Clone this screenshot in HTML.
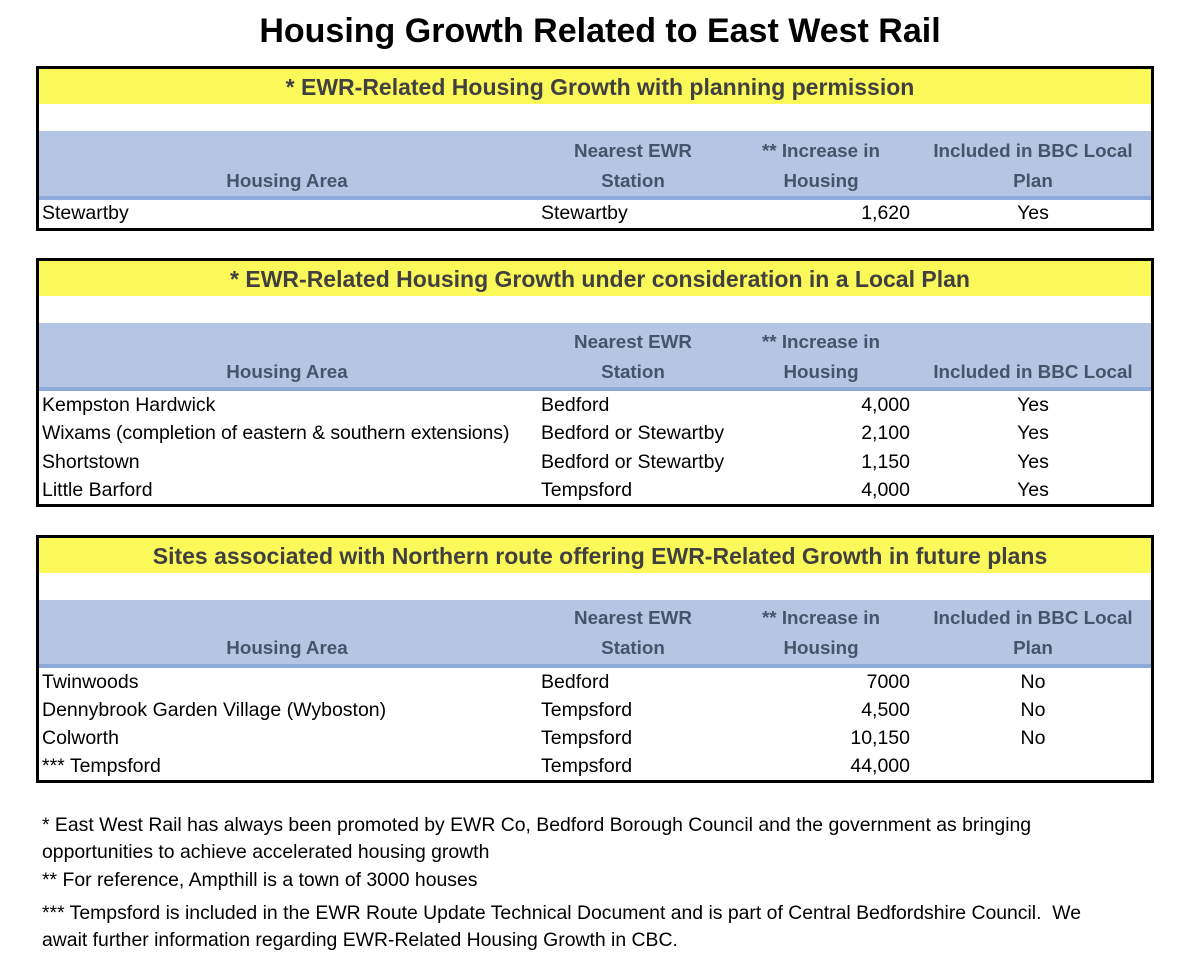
<!DOCTYPE html>
<html><head><meta charset="utf-8"><style>
*{margin:0;padding:0;box-sizing:border-box}
body{width:1200px;height:966px;background:#fff;position:relative;font-family:"Liberation Sans",Arial,sans-serif;overflow:hidden}
.a{position:absolute;white-space:nowrap}
.box{position:absolute;left:36px;width:1118px;border:3px solid #000}
.y{position:absolute;left:0;right:0;background:#fbf959}
.b{position:absolute;left:0;right:0;background:#b4c6e4}
.bl{position:absolute;left:0;right:0;background:#8eaadb;height:4px}
.t{font-weight:bold;color:#404040;font-size:23px;left:0;right:0;text-align:center}
.h{font-weight:bold;color:#44546a;font-size:18.8px;text-align:center;width:300px;margin-left:-150px}
.r{font-size:19.5px;color:#000}
.n{font-size:19.5px;color:#000;text-align:right;width:200px}
.c{font-size:19.5px;color:#000;text-align:center;width:100px;margin-left:-50px}
.f{font-size:19.4px;color:#000;left:42px}
</style></head><body>
<div class="a" style="left:0;right:0;top:12px;text-align:center;font-weight:bold;font-size:34px;color:#000">Housing Growth Related to East West Rail</div>

<div class="box" style="top:66px;height:165px">
 <div class="y" style="top:0;height:35px"></div>
 <div class="b" style="top:62px;height:65px"></div>
 <div class="bl" style="top:127px"></div>
</div>
<div class="a t" style="top:74px">* EWR-Related Housing Growth with planning permission</div>
<div class="a h" style="left:287px;top:170px">Housing Area</div>
<div class="a h" style="left:633px;top:140px">Nearest EWR</div>
<div class="a h" style="left:633px;top:170px">Station</div>
<div class="a h" style="left:821px;top:140px">** Increase in</div>
<div class="a h" style="left:821px;top:170px">Housing</div>
<div class="a h" style="left:1033px;top:140px">Included in BBC Local</div>
<div class="a h" style="left:1033px;top:170px">Plan</div>
<div class="a r" style="left:42px;top:202px">Stewartby</div>
<div class="a r" style="left:541px;top:202px">Stewartby</div>
<div class="a n" style="left:710px;top:202px">1,620</div>
<div class="a c" style="left:1033px;top:202px">Yes</div>

<div class="box" style="top:258px;height:249px">
 <div class="y" style="top:0;height:35px"></div>
 <div class="b" style="top:62px;height:64px"></div>
 <div class="bl" style="top:126px"></div>
</div>
<div class="a t" style="top:266px">* EWR-Related Housing Growth under consideration in a Local Plan</div>
<div class="a h" style="left:287px;top:361px">Housing Area</div>
<div class="a h" style="left:633px;top:331px">Nearest EWR</div>
<div class="a h" style="left:633px;top:361px">Station</div>
<div class="a h" style="left:821px;top:331px">** Increase in</div>
<div class="a h" style="left:821px;top:361px">Housing</div>
<div class="a h" style="left:1033px;top:361px">Included in BBC Local</div>
<div class="a r" style="left:42px;top:394px">Kempston Hardwick</div>
<div class="a r" style="left:541px;top:394px">Bedford</div>
<div class="a n" style="left:710px;top:394px">4,000</div>
<div class="a c" style="left:1033px;top:394px">Yes</div>
<div class="a r" style="left:42px;top:422px;letter-spacing:-0.1px">Wixams (completion of eastern &amp; southern extensions)</div>
<div class="a r" style="left:541px;top:422px">Bedford or Stewartby</div>
<div class="a n" style="left:710px;top:422px">2,100</div>
<div class="a c" style="left:1033px;top:422px">Yes</div>
<div class="a r" style="left:42px;top:451px">Shortstown</div>
<div class="a r" style="left:541px;top:451px">Bedford or Stewartby</div>
<div class="a n" style="left:710px;top:451px">1,150</div>
<div class="a c" style="left:1033px;top:451px">Yes</div>
<div class="a r" style="left:42px;top:479px">Little Barford</div>
<div class="a r" style="left:541px;top:479px">Tempsford</div>
<div class="a n" style="left:710px;top:479px">4,000</div>
<div class="a c" style="left:1033px;top:479px">Yes</div>

<div class="box" style="top:535px;height:248px">
 <div class="y" style="top:0;height:35px"></div>
 <div class="b" style="top:62px;height:64px"></div>
 <div class="bl" style="top:126px"></div>
</div>
<div class="a t" style="top:543px">Sites associated with Northern route offering EWR-Related Growth in future plans</div>
<div class="a h" style="left:287px;top:637px">Housing Area</div>
<div class="a h" style="left:633px;top:607px">Nearest EWR</div>
<div class="a h" style="left:633px;top:637px">Station</div>
<div class="a h" style="left:821px;top:607px">** Increase in</div>
<div class="a h" style="left:821px;top:637px">Housing</div>
<div class="a h" style="left:1033px;top:607px">Included in BBC Local</div>
<div class="a h" style="left:1033px;top:637px">Plan</div>
<div class="a r" style="left:42px;top:671px">Twinwoods</div>
<div class="a r" style="left:541px;top:671px">Bedford</div>
<div class="a n" style="left:710px;top:671px">7000</div>
<div class="a c" style="left:1033px;top:671px">No</div>
<div class="a r" style="left:42px;top:699px">Dennybrook Garden Village (Wyboston)</div>
<div class="a r" style="left:541px;top:699px">Tempsford</div>
<div class="a n" style="left:710px;top:699px">4,500</div>
<div class="a c" style="left:1033px;top:699px">No</div>
<div class="a r" style="left:42px;top:727px">Colworth</div>
<div class="a r" style="left:541px;top:727px">Tempsford</div>
<div class="a n" style="left:710px;top:727px">10,150</div>
<div class="a c" style="left:1033px;top:727px">No</div>
<div class="a r" style="left:42px;top:755px">*** Tempsford</div>
<div class="a r" style="left:541px;top:755px">Tempsford</div>
<div class="a n" style="left:710px;top:755px">44,000</div>

<div class="a f" style="top:814px">* East West Rail has always been promoted by EWR Co, Bedford Borough Council and the government as bringing</div>
<div class="a f" style="top:841px">opportunities to achieve accelerated housing growth</div>
<div class="a f" style="top:869px">** For reference, Ampthill is a town of 3000 houses</div>
<div class="a f" style="top:902px">*** Tempsford is included in the EWR Route Update Technical Document and is part of Central Bedfordshire Council.&nbsp; We</div>
<div class="a f" style="top:929px">await further information regarding EWR-Related Housing Growth in CBC.</div>
</body></html>
